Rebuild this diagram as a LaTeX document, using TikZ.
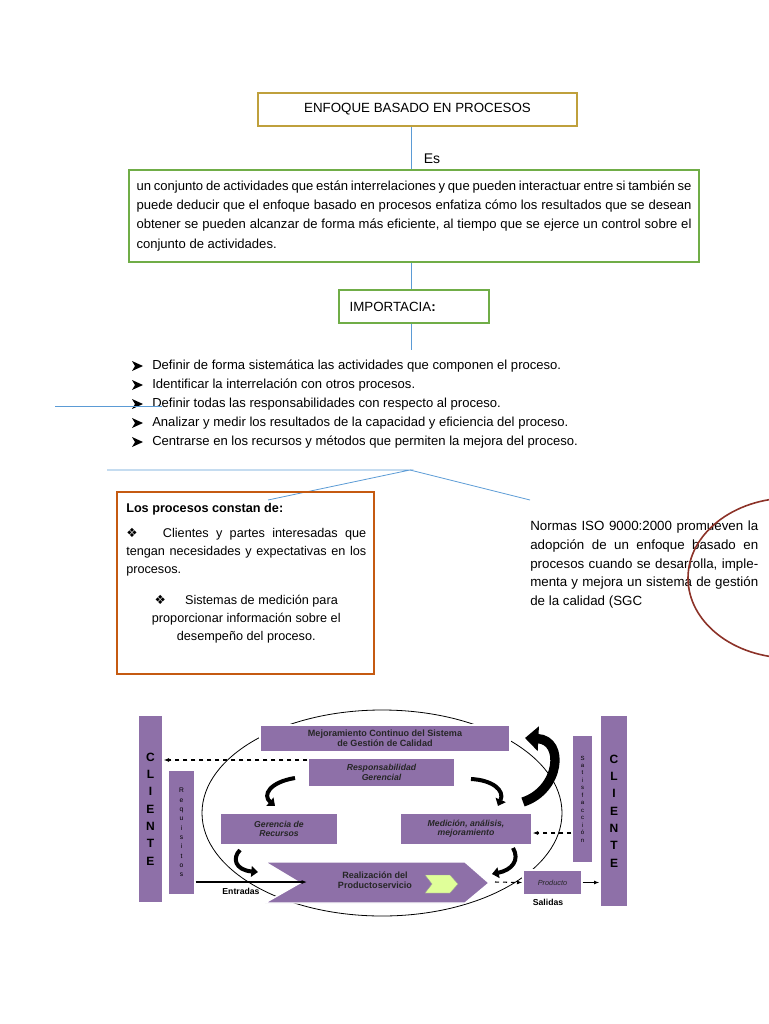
\documentclass[tikz,border=0pt]{standalone}
\usepackage{fontspec}
\setmainfont{Liberation Sans}
\newfontfamily\djv{DejaVu Sans}
\usetikzlibrary{arrows.meta}
\definecolor{gold}{RGB}{191,160,60}
\definecolor{grn}{RGB}{112,173,71}
\definecolor{org}{RGB}{197,90,17}
\definecolor{brn}{RGB}{140,50,40}
\definecolor{blu}{RGB}{91,155,213}
\definecolor{pur}{RGB}{142,112,168}
\tikzset{
 pbox/.style={draw=white,line width=1pt,fill=pur,inner sep=0pt},
 ptext/.style={font=\bfseries\itshape\fontsize{6.5}{7}\selectfont,align=center,text=black!85},
 bline/.style={blu,line width=0.6pt},
 carrow/.style={line width=3pt,-{Triangle[length=5pt,width=8pt]}},
}
\begin{document}
\begin{tikzpicture}[x=0.75pt,y=-0.75pt]
\useasboundingbox (0,0) rectangle (768,1024);
% title
\node[draw=gold,line width=0.8pt,minimum width=319*0.75pt,minimum height=33*0.75pt,font=\fontsize{10}{12}\selectfont] (t) at (417.5,109.5) {ENFOQUE BASADO EN PROCESOS};
\node[font=\fontsize{10.5}{12}\selectfont] (es) at (432,159) {Es};
\node[draw=grn,line width=1.2pt,minimum width=570*0.75pt,minimum height=92*0.75pt,text width=555*0.75pt,align=justify,inner sep=0pt,font=\fontsize{9.8}{14.3}\selectfont] (def) at (414,216) {un conjunto de actividades que están interrelaciones y que pueden interactuar entre si también se puede deducir que el enfoque basado en procesos enfatiza cómo los resultados que se desean obtener se pueden alcanzar de forma más eficiente, al tiempo que se ejerce un control sobre el conjunto de actividades.};
\draw[bline] (t.south -| 411,0) -- (def.north -| 411,0);
\node[draw=grn,line width=1.2pt,minimum width=150*0.75pt,minimum height=33*0.75pt,inner sep=0pt,font=\fontsize{10}{12}\selectfont] (imp) at (414,306.5) {\hspace*{-3.2em}IMPORTACIA\textbf{:}};
\draw[bline] (def.south -| 411,0) -- (imp.north -| 411,0);
\coordinate (ie) at (411,350);
\draw[bline] (imp.south -| 411,0) -- (ie);
\foreach \y/\t in {366/Definir de forma sistemática las actividades que componen el proceso.,385/Identificar la interrelación con otros procesos.,404/Definir todas las responsabilidades con respecto al proceso.,423/Analizar y medir los resultados de la capacidad y eficiencia del proceso.,442/Centrarse en los recursos y métodos que permiten la mejora del proceso.}{
 \fill (132,\y-5) -- (143,\y) -- (132,\y+5) -- (135,\y) -- cycle;
 \node[anchor=west,inner sep=0pt,font=\fontsize{9.8}{12}\selectfont] at (152,\y) {\t};
}
\coordinate (l1a) at (55,406); \coordinate (l1b) at (162,406);
\draw[bline] (l1a) -- (l1b);
\coordinate (h1) at (107,470); \coordinate (h2) at (410,470);
\coordinate (h3) at (268,500); \coordinate (h4) at (530,500);
\draw[bline] (h1) -- (h2) -- (h3); \draw[bline] (h2) -- (h4);
% orange box
\node[draw=org,line width=1.5pt,minimum width=257*0.75pt,minimum height=182*0.75pt] (pb) at (245.5,583) {};
\node[anchor=north west,text width=240*0.75pt,inner sep=0pt,font=\fontsize{9.5}{13.5}\selectfont,align=justify] at (126,503) {\textbf{Los procesos constan de:}\\[5pt]
\hspace*{0pt}{\djv ❖}\hspace{2em}Clientes y partes interesadas que tengan necesidades y expectativas en los procesos.\par\vspace{10pt}
{\centering {\djv ❖}\hspace{1.5em}Sistemas de medición para proporcionar información sobre el desempeño del proceso.\par}};
% Normas
\node[anchor=north west,text width=228*0.75pt,inner sep=0pt,align=justify,font=\fontsize{10}{14}\selectfont] (nor) at (530,521) {Normas ISO 9000:2000 promueven la adopción de un enfoque basado en procesos cuando se desarrolla, implementa y mejora un sistema de gestión de la calidad (SGC};
\draw[brn,line width=1.2pt] (790,578) ellipse (102 and 80);
% bottom diagram
\draw[black,line width=0.6pt] (382,813) ellipse (180 and 103);
\node[pbox,minimum width=25*0.75pt,minimum height=188*0.75pt] (cl) at (150.5,809) {};
\node[font=\bfseries\fontsize{9}{13}\selectfont,align=center] at (cl) {C\\L\\I\\E\\N\\T\\E};
\node[pbox,minimum width=27*0.75pt,minimum height=125*0.75pt] (req) at (181.5,832.5) {};
\node[font=\fontsize{5}{7}\selectfont,align=center] at (req) {R\\e\\q\\u\\i\\s\\i\\t\\o\\s};
\node[pbox,minimum width=28*0.75pt,minimum height=192*0.75pt] (cr) at (614,811) {};
\node[font=\bfseries\fontsize{9}{13}\selectfont,align=center] at (cr) {C\\L\\I\\E\\N\\T\\E};
\node[pbox,minimum width=21*0.75pt,minimum height=128*0.75pt] (sat) at (582.5,799) {};
\node[font=\fontsize{4.5}{5.6}\selectfont,align=center] at (sat) {S\\a\\t\\i\\s\\f\\a\\c\\c\\i\\ó\\n};
\node[pbox,minimum width=250*0.75pt,minimum height=27*0.75pt] (mej) at (385,738.5) {};
\node[font=\bfseries\fontsize{6.8}{7.5}\selectfont,align=center,text=black!85] at (mej) {Mejoramiento Continuo del Sistema\\de Gestión de Calidad};
\node[pbox,minimum width=147*0.75pt,minimum height=29*0.75pt] (res) at (381.5,772.5) {};
\node[ptext] at (res) {Responsabilidad\\Gerencial};
\node[pbox,minimum width=118*0.75pt,minimum height=32*0.75pt] (ger) at (279,829) {};
\node[ptext] at (ger) {Gerencia de\\Recursos};
\node[pbox,minimum width=132*0.75pt,minimum height=32*0.75pt] (med) at (466,829) {};
\node[ptext] at (med) {Medición, análisis,\\mejoramiento};
\draw[white,line width=1pt,fill=pur] (265,862) -- (465,862) -- (489,883) -- (465,903) -- (265,903) -- (300,883) -- cycle;
\node[font=\bfseries\fontsize{6.8}{7.5}\selectfont,align=center,text=black!85] (rea) at (375,880) {Realización del\\Productoservicio};
\fill[green!30!yellow!40,draw=black!40,line width=0.3pt] (425,875) -- (450,875) -- (458,884) -- (450,893) -- (425,893) -- (432,884) -- cycle;
\node[pbox,minimum width=59*0.75pt,minimum height=25*0.75pt] (pro) at (552.5,882.5) {};
\node[ptext,font=\itshape\fontsize{5.5}{6}\selectfont] at (pro) {Producto};
\draw[-{Latex[length=4pt]},line width=0.8pt] (req.east |- 0,882) -- (307,882);
\node[font=\bfseries\fontsize{6.5}{7}\selectfont] at (241,891) {Entradas};
\node[font=\bfseries\fontsize{6.5}{7}\selectfont] at (548,902) {Salidas};
\draw[-{Latex[length=4pt]},line width=0.8pt,dashed] (495,882) -- (pro.west);
\draw[-{Latex[length=4pt]},line width=0.8pt] (pro.east) -- (cr.west |- pro.east);
\draw[-{Latex[length=4pt]},line width=0.8pt,dashed] (res.west |- 0,760) -- (cl.east |- 0,760);
\draw[-{Latex[length=4pt]},line width=0.8pt,dashed] (sat.west |- 0,833) -- (med.east |- 0,833);
% curved arrows
\draw[carrow] (295,778) .. controls (270,782) and (262,795) .. (275,806);
\draw[carrow] (240,850) .. controls (232,858) and (235,870) .. (258,872);
\draw[carrow] (471,779) .. controls (492,780) and (505,790) .. (498,806);
\draw[carrow] (513,848) .. controls (520,860) and (512,870) .. (492,874);
\draw[line width=7pt,-{Triangle[length=10pt,width=18pt]}] (523,802) .. controls (560,790) and (565,740) .. (525,738);
\end{tikzpicture}
\end{document}
